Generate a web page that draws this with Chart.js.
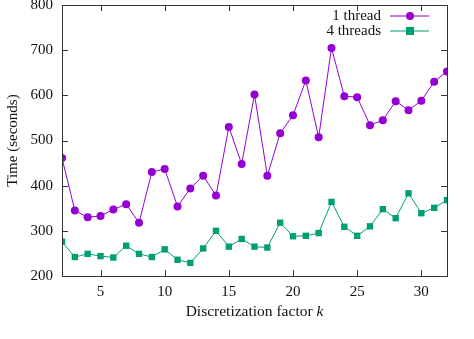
<!DOCTYPE html>
<html>
<head>
<meta charset="utf-8">
<script src="https://cdn.jsdelivr.net/npm/chart.js@4"></script>
<style>
  html, body { margin: 0; padding: 0; background: #fff; }
  #wrap { width: 474px; height: 339px; position: relative; }
</style>
</head>
<body>
<div id="wrap"><canvas id="timeChart"></canvas></div>
<script>
const factors = [2, 3, 4, 5, 6, 7, 8, 9, 10, 11, 12, 13, 14, 15, 16, 17,
                 18, 19, 20, 21, 22, 23, 24, 25, 26, 27, 28, 29, 30, 31, 32];
const oneThread = [461, 345, 330, 333, 347, 359, 318, 430, 437, 354, 394, 422, 378, 530, 448, 602,
                   422, 516, 556, 633, 507, 705, 598, 596, 534, 545, 587, 567, 588, 630, 653];
const fourThreads = [276, 242, 249, 244, 241, 267, 249, 242, 259, 236, 229, 261, 300, 265, 282, 265,
                     263, 318, 288, 289, 295, 364, 309, 289, 310, 348, 328, 383, 339, 351, 368];
const xTicks = [5, 10, 15, 20, 25, 30];
const seriesNames = ["1 thread", "4 threads"];

const PURPLE = "#9400d3";
const GREEN = "#009e73";
const FONT = "'Liberation Serif', 'DejaVu Serif', serif";

// gnuplot-like frame: box around the plot with inward ticks on all sides
const framePlugin = {
  id: "frame",
  afterDraw(chart) {
    const { ctx, chartArea: a, scales } = chart;
    const len = 6;
    ctx.save();
    ctx.strokeStyle = "#333";
    ctx.lineWidth = 1;
    ctx.beginPath();
    scales.x.ticks.forEach(t => {
      const px = Math.round(scales.x.getPixelForValue(t.value)) + 0.5;
      ctx.moveTo(px, a.bottom); ctx.lineTo(px, a.bottom - len);
      ctx.moveTo(px, a.top); ctx.lineTo(px, a.top + len);
    });
    scales.y.ticks.forEach(t => {
      const py = Math.round(scales.y.getPixelForValue(t.value)) + 0.5;
      ctx.moveTo(a.left, py); ctx.lineTo(a.left + len, py);
      ctx.moveTo(a.right, py); ctx.lineTo(a.right - len, py);
    });
    ctx.stroke();
    ctx.strokeRect(Math.round(a.left) + 0.5, Math.round(a.top) + 0.5,
                   Math.round(a.right - a.left), Math.round(a.bottom - a.top));

    // x axis title with an italic k
    ctx.fillStyle = "#111";
    ctx.textBaseline = "middle";
    ctx.textAlign = "left";
    const upright = "15.5px " + FONT, italic = "italic 15.5px " + FONT;
    const head = "Discretization factor ";
    ctx.font = upright;
    const w1 = ctx.measureText(head).width;
    ctx.font = italic;
    const w2 = ctx.measureText("k").width;
    const x0 = (a.left + a.right) / 2 - (w1 + w2) / 2;
    ctx.font = upright;
    ctx.fillText(head, x0, 312);
    ctx.font = italic;
    ctx.fillText("k", x0 + w1, 312);

    // key in the top right corner: label, then line sample with marker
    ctx.font = "15px " + FONT;
    ctx.textAlign = "right";
    const rows = [
      { label: seriesNames[0], color: PURPLE, y: a.top + 11, shape: "circle" },
      { label: seriesNames[1], color: GREEN, y: a.top + 26, shape: "square" }
    ];
    rows.forEach(r => {
      ctx.fillStyle = "#111";
      ctx.fillText(r.label, a.right - 66, r.y);
      ctx.strokeStyle = r.color;
      ctx.fillStyle = r.color;
      ctx.beginPath();
      ctx.moveTo(a.right - 57, r.y); ctx.lineTo(a.right - 18, r.y);
      ctx.stroke();
      const mx = a.right - 37;
      if (r.shape === "circle") {
        ctx.beginPath(); ctx.arc(mx, r.y, 4, 0, Math.PI * 2); ctx.fill();
      } else {
        ctx.fillRect(mx - 4, r.y - 4, 8, 8);
      }
    });
    ctx.restore();
  }
};

new Chart(document.getElementById("timeChart"), {
  type: "line",
  data: {
    labels: factors,
    datasets: [
      {
        label: seriesNames[0],
        data: factors.map((k, i) => ({ x: k, y: oneThread[i] })),
        borderColor: PURPLE,
        backgroundColor: PURPLE,
        borderWidth: 1,
        pointStyle: "circle",
        pointRadius: 4,
        pointBorderWidth: 0,
        tension: 0
      },
      {
        label: seriesNames[1],
        data: factors.map((k, i) => ({ x: k, y: fourThreads[i] })),
        borderColor: GREEN,
        backgroundColor: GREEN,
        borderWidth: 1,
        pointStyle: "rect",
        pointRadius: 4.5,
        pointBorderWidth: 0,
        tension: 0
      }
    ]
  },
  options: {
    responsive: true,
    maintainAspectRatio: false,
    animation: false,
    layout: { padding: { top: 5, right: 27, left: 0, bottom: 0 } },
    plugins: {
      legend: { display: false },
      tooltip: { enabled: false }
    },
    scales: {
      x: {
        type: "linear",
        min: 2,
        max: 32,
        afterBuildTicks: s => { s.ticks = xTicks.map(v => ({ value: v })); },
        afterFit: s => { s.height = 63; s.paddingLeft = 0; s.paddingRight = 0; },
        grid: { display: false, drawTicks: false },
        border: { display: false },
        ticks: { color: "#111", padding: 7, font: { family: FONT, size: 15 } }
      },
      y: {
        min: 200,
        max: 800,
        afterFit: s => { s.width = 62; s.paddingTop = 0; s.paddingBottom = 0; },
        grid: { display: false, drawTicks: false },
        border: { display: false },
        ticks: { stepSize: 100, color: "#111", padding: 9, font: { family: FONT, size: 15 } },
        title: {
          display: true,
          text: "Time (seconds)",
          color: "#111",
          padding: { bottom: 2 },
          font: { family: FONT, size: 15 }
        }
      }
    }
  },
  plugins: [framePlugin]
});
</script>
</body>
</html>
